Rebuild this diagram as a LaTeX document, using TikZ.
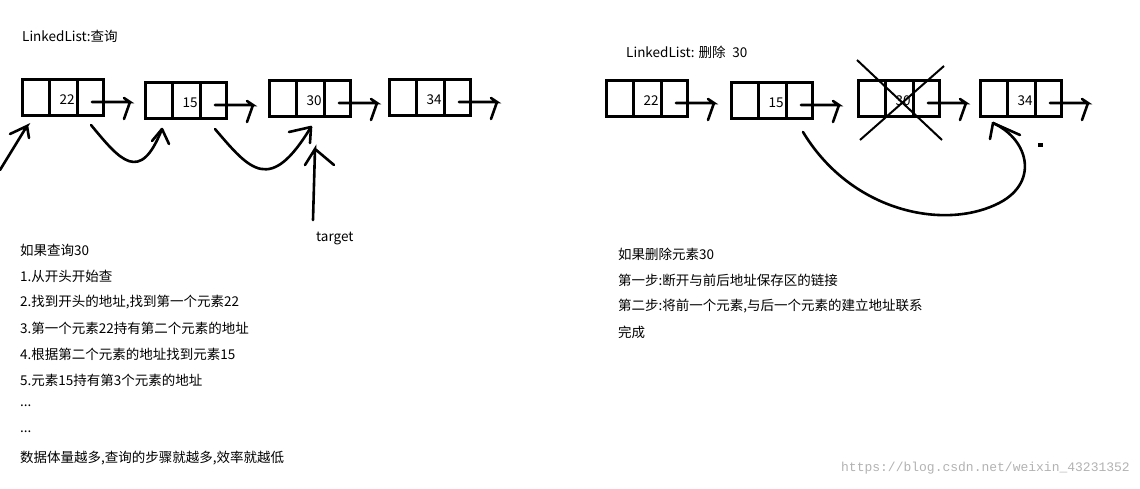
\documentclass[tikz,border=0pt]{standalone}
\usepackage{fontspec}
\setmainfont{Noto Sans CJK SC}
\newfontfamily\wmfont{Liberation Mono}
\begin{document}
\begin{tikzpicture}[x=1pt,y=-1pt,
  cell/.style={draw,line width=3pt},
  stroke/.style={line width=2.6pt,line cap=round},
  txt/.style={anchor=west,inner sep=0pt,font=\fontsize{13.5}{15}\selectfont},
  num/.style={inner sep=0pt,font=\fontsize{13.5}{15}\selectfont}]
\useasboundingbox (0,0) rectangle (1140,489);
\foreach \n/\x/\y/\v in {a/22/80/22,b/145/83/15,c/269/81/30,d/389/80/34,e/606/81/22,f/731/83/15,g/858/81/30,h/980/81/34}{
  \draw[cell] (\x,\y) rectangle ++(81,36);
  \draw[cell] (\x+27,\y) -- ++(0,36) (\x+55,\y) -- ++(0,36);
  \node[num] (n\n) at (\x+45,\y+20) {\v};
  \coordinate (s\n) at (\x+70,\y+22);
  \coordinate (t\n) at (\x+108,\y+22);
  \draw[stroke] (s\n) -- (t\n) -- ++(-6,-4) (t\n) -- ++(-6,17);
}
\coordinate (p0) at (0,170); \coordinate (p1) at (27,126);
\draw[stroke] (p0) -- (p1) -- ++(-17,8) (p1) -- ++(2,12);
\coordinate (c1) at (91,125); \coordinate (c2) at (162,129);
\draw[stroke] (c1) .. controls (120,160) and (140,185) .. (c2);
\draw[stroke] (c2) -- ++(-10,12) (c2) -- ++(7,15);
\coordinate (c3) at (215,129); \coordinate (c4) at (311,127);
\draw[stroke] (c3) .. controls (250,170) and (270,195) .. (c4);
\draw[stroke] (c4) -- ++(-22,5) (c4) -- ++(-1,16);
\coordinate (q0) at (313,220); \coordinate (q1) at (315,149);
\draw[stroke] (q0) -- (q1) -- ++(-10,16) (q1) -- ++(19,16);
\node[txt] (tg) at (316,238) {target};
\node[txt] (t1) at (22,36) {LinkedList:查询};
\node[txt] (t2) at (626,52) {LinkedList: 删除\enspace 30};
\draw[line width=2pt] (857,60) -- (942,140) (944,66) -- (860,140);
\coordinate (d0) at (803,132); \coordinate (d1) at (993,123);
\draw[stroke] (d0) .. controls (850,210) and (940,230) .. (995,205) .. controls (1040,185) and (1030,140) .. (d1);
\draw[stroke] (d1) -- ++(-3,16) (d1) -- ++(27,12);
\fill (1038,143) rectangle (1043,147);
\foreach \t [count=\i] in {如果查询30,1.从开头开始查,{2.找到开头的地址,找到第一个元素22},3.第一个元素22持有第二个元素的地址,4.根据第二个元素的地址找到元素15,5.元素15持有第3个元素的地址,{.{}.{}.},{.{}.{}.},{数据体量越多,查询的步骤就越多,效率就越低}}
  \node[txt] (L\i) at (20,250+26*\i-26) {\t};
\foreach \t [count=\i] in {如果删除元素30,第一步:断开与前后地址保存区的链接,{第二步:将前一个元素,与后一个元素的建立地址联系},完成}
  \node[txt] (R\i) at (618,254+26*\i-26) {\t};
\node[anchor=east,inner sep=0pt,text=black!30,font=\wmfont\fontsize{13}{14}\selectfont] (wm) at (1130,468) {https://blog.csdn.net/weixin\_43231352};
\end{tikzpicture}
\end{document}
